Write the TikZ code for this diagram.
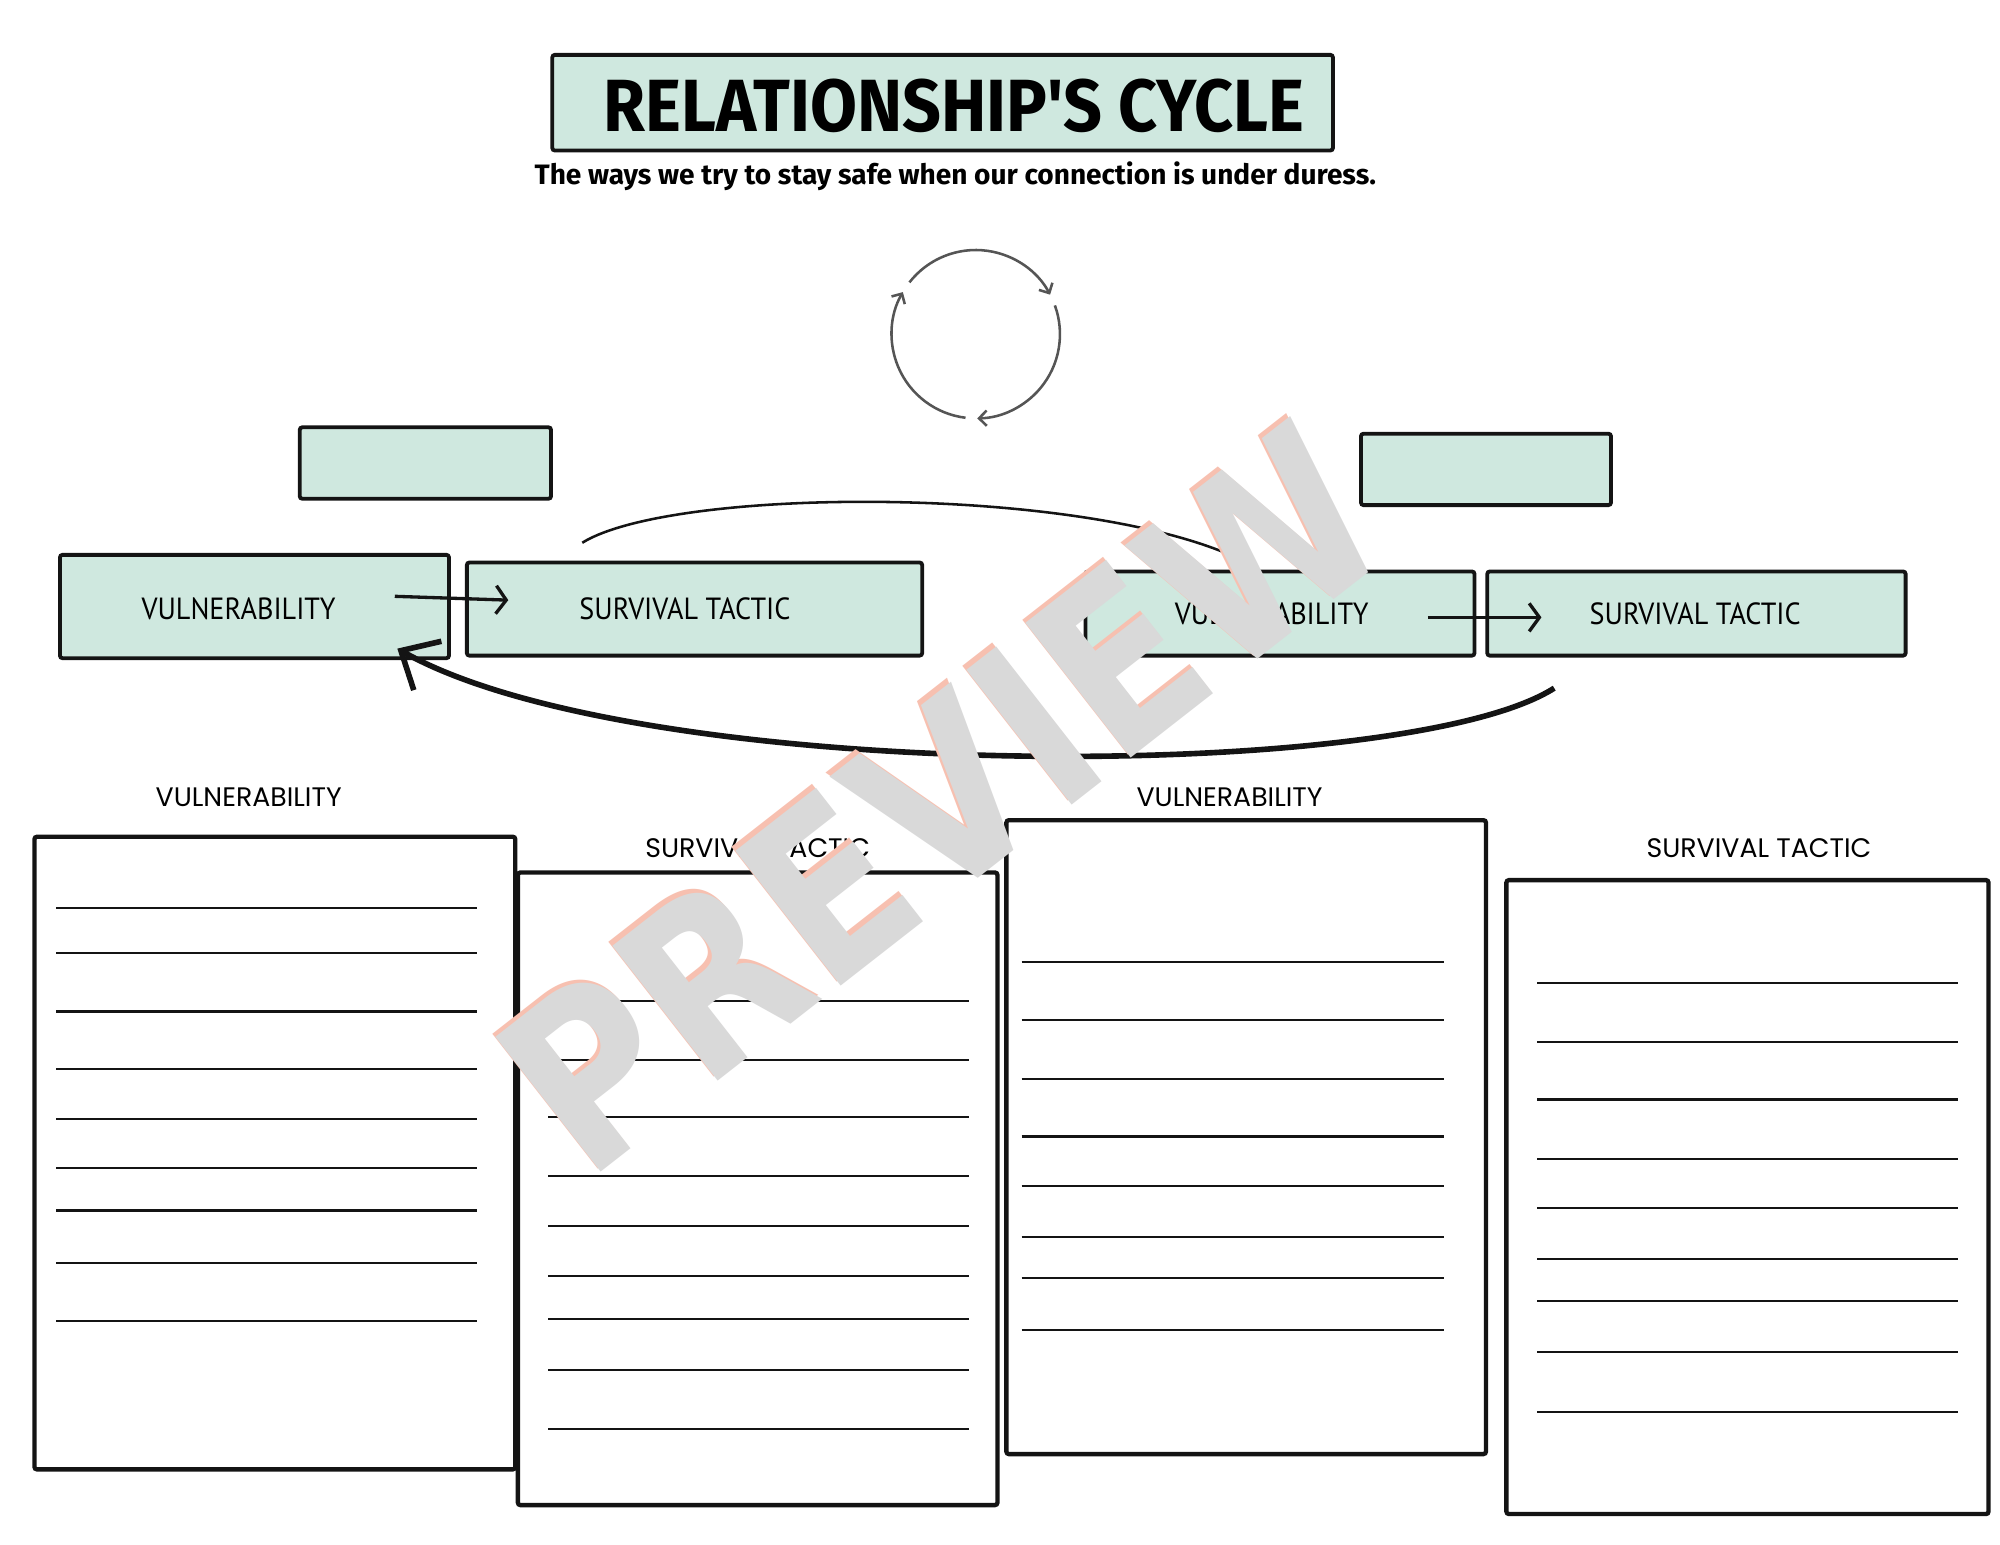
\documentclass[tikz,border=0pt]{standalone}
\usepackage{fontspec}
\usepackage{xcolor}
\usepackage{tikz}
\usetikzlibrary{arrows.meta}
\usetikzlibrary{calc}
\usetikzlibrary{positioning}
\setmainfont{PT Sans}
\newfontfamily\titlefont{Fira Sans}[FakeStretch=0.92]
\newfontfamily\subfont{Fira Sans}
\newfontfamily\boxfont{PT Sans}[FakeStretch=0.92]
\newfontfamily\labfont{Poppins}
\newfontfamily\markfont{DejaVu Sans}[FakeStretch=0.86]
\definecolor{mint}{RGB}{207,232,223}
\definecolor{ink}{RGB}{20,20,20}
\definecolor{wmgray}{RGB}{217,217,217}
\definecolor{wmpink}{RGB}{247,192,176}
\definecolor{cycgray}{RGB}{85,85,85}

\begin{document}
\begin{tikzpicture}[x=0.5pt,y=-0.5pt,
    tealbox/.style={draw=ink, fill=mint, line width=1.5pt, rounded corners=1pt, inner sep=0pt},
    sheet/.style={draw=ink, fill=white, line width=1.7pt, rounded corners=1pt, inner sep=0pt, minimum width=188pt, minimum height=248pt},
    boxtext/.style={font=\boxfont\fontsize{12}{12}\selectfont},
    sheettext/.style={font=\labfont\fontsize{10.5}{10.5}\selectfont},
    rule/.style={draw=ink, line width=0.8pt},
    cycarrow/.style={draw=cycgray, line width=1pt, -{Straight Barb[length=3pt,width=6pt]}},
    wmtext/.style={rotate=38, font=\markfont\bfseries\fontsize{92}{92}\selectfont}]
    \useasboundingbox (0,0) rectangle (1568,1211);

    \node[tealbox, minimum width=306pt, minimum height=37.5pt] (T) at (739,80.5) {};
    \node[font=\titlefont\bfseries\fontsize{29}{29}\selectfont] (Tt) at (748,83) {RELATIONSHIP'S CYCLE};
    \node[font=\subfont\bfseries\fontsize{11}{11}\selectfont] (Sub) at (749,138) {The ways we try to stay safe when our connection is under duress.};

    \coordinate (cyc) at (765,262);
    \draw[cycarrow] ([shift={(-142:66)}]cyc) arc[start angle=-142, end angle=-28, radius=66];
    \draw[cycarrow] ([shift={(-20:66)}]cyc) arc[start angle=-20, end angle=89, radius=66];
    \draw[cycarrow] ([shift={(97:66)}]cyc) arc[start angle=97, end angle=210, radius=66];

    \node[tealbox, minimum width=98.5pt, minimum height=28pt] (N1) at (333.5,363) {};
    \node[tealbox, minimum width=98pt, minimum height=28pt] (N2) at (1165,368) {};

    \node[tealbox, minimum width=152.5pt, minimum height=40.5pt] (V1) at (199.5,475.5) {};
    \node[tealbox, minimum width=178.5pt, minimum height=36.5pt] (S1) at (544.5,477.5) {};
    \node[tealbox, minimum width=152.5pt, minimum height=33pt] (V2) at (1003.5,481) {};
    \node[tealbox, minimum width=164pt, minimum height=33pt] (S2) at (1330,481) {};
    \node[boxtext] (V1t) at (187,477) {VULNERABILITY};
    \node[boxtext] (S1t) at (537,477) {SURVIVAL TACTIC};
    \node[boxtext] (V2t) at (997,481) {VULNERABILITY};
    \node[boxtext] (S2t) at (1329,481) {SURVIVAL TACTIC};

    \draw[ink, line width=1.3pt, -{Straight Barb[length=4pt,width=11pt]}] ($(V1.east)+(-44,-8)$) -- ($(S1.west)+(34,-7)$);
    \draw[ink, line width=1.3pt, -{Straight Barb[length=4pt,width=11pt]}] ($(V2.east)+(-38,3)$) -- ($(S2.west)+(44,3)$);
    \draw[ink, line width=1pt, -{Straight Barb[length=6pt,width=10pt]}] ($(S1.north west)+(92,-14)$) .. controls (530,380) and (870,380) .. ($(V2.north)+(-18,-1)$);
    \draw[ink, line width=2.2pt, -{Straight Barb[length=12pt,width=22pt]}] ($(S2.south west)+(54,24)$) .. controls (1100,615) and (500,615) .. ($(V1.south east)+(-42,-9)$);

    \node[sheettext] (LA) at (195,625) {VULNERABILITY};
    \node[sheettext] (LB) at (594,665) {SURVIVAL TACTIC};
    \node[sheettext] (LC) at (964,625) {VULNERABILITY};
    \node[sheettext] (LD) at (1379,665) {SURVIVAL TACTIC};

    \node[sheet, minimum width=188.5pt] (A) at (215.5,904) {};
    \node[sheet] (B) at (594,932) {};
    \node[sheet, minimum height=248.5pt] (C) at (977,891.5) {};
    \node[sheet, minimum width=189pt, minimum height=248.5pt] (D) at (1370,938.5) {};

    \foreach \y in {712,747,793,838,877,916,949,990,1036}
        \draw[rule] (44,\y) -- (374,\y);
    \foreach \y in {785,831,876,922,961,1000,1034,1074,1120}
        \draw[rule] (430,\y) -- (760,\y);
    \foreach \y in {754,800,846,891,930,970,1002,1043}
        \draw[rule] (801,\y) -- (1132,\y);
    \foreach \y in {771,817,862,909,947,987,1020,1060,1107}
        \draw[rule] (1205,\y) -- (1535,\y);

    \node[wmtext, text=wmpink] (Wp) at (735,623) {PREVIEW};
    \node[wmtext, text=wmgray] (W) at (738,626) {PREVIEW};
\end{tikzpicture}
\end{document}
